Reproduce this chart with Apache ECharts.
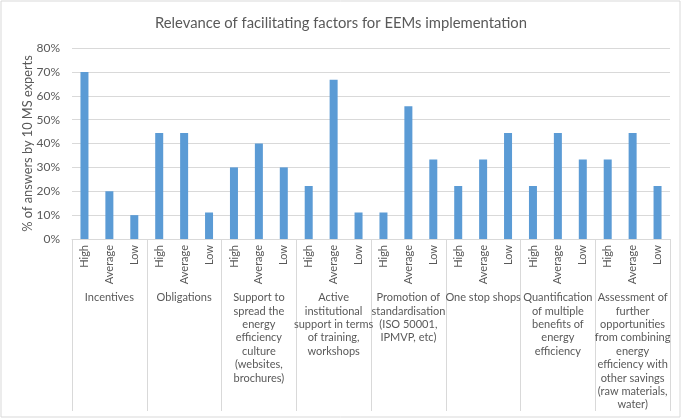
<!DOCTYPE html>
<html><head><meta charset="utf-8">
<script src="https://cdn.jsdelivr.net/npm/echarts@6/dist/echarts.min.js"></script>
<style>html,body{margin:0;padding:0;background:#fff}#c{width:685px;height:419px}</style>
</head><body><div id="c"></div>
<script>
const groups = [
  "Incentives",
  "Obligations",
  "Support to\nspread the\nenergy\nefficiency\nculture\n(websites,\nbrochures)",
  "Active\ninstitutional\nsupport in terms\nof training,\nworkshops",
  "Promotion of\nstandardisation\n(ISO 50001,\nIPMVP, etc)",
  "One stop shops",
  "Quantification\nof multiple\nbenefits of\nenergy\nefficiency",
  "Assessment of\nfurther\nopportunities\nfrom combining\nenergy\nefficiency with\nother savings\n(raw materials,\nwater)"
];
const levels = ["High", "Average", "Low"];
const values = [
  70, 20, 10,
  44.4, 44.4, 11.1,
  30, 40, 30,
  22.2, 66.7, 11.1,
  11.1, 55.6, 33.3,
  22.2, 33.3, 44.4,
  22.2, 44.4, 33.3,
  33.3, 44.4, 22.2
];
const yTicks = [0, 10, 20, 30, 40, 50, 60, 70, 80];

const cats = [];
groups.forEach(() => levels.forEach(l => cats.push(l)));
const FONT = 'Lato';
const TXT = '#595959';
const chart = echarts.init(document.getElementById('c'), null, {renderer: 'canvas'});
chart.setOption({
  animation: false,
  textStyle: {fontFamily: FONT},
  title: {
    text: 'Relevance of facilitating factors for EEMs implementation',
    left: 150, top: 11,
    textStyle: {fontFamily: FONT, fontSize: 14.8, fontWeight: 'normal', color: TXT}
  },
  graphic: [{
    type: 'rect', shape: {x: 1, y: 1, width: 679, height: 416},
    style: {fill: 'none', stroke: '#d9d9d9', lineWidth: 1}, silent: true, z: -1
  }],
  grid: {left: 72, right: 15, top: 48, bottom: 180},
  xAxis: [{
    type: 'category', data: cats, position: 'bottom',
    axisLine: {lineStyle: {color: '#d9d9d9'}},
    axisTick: {show: false},
    axisLabel: {rotate: 90, interval: 0, fontSize: 11, color: TXT, margin: 6, fontFamily: FONT}
  }, {
    type: 'category', data: groups, position: 'bottom',
    axisLine: {show: false},
    axisTick: {show: true, length: 172, lineStyle: {color: '#d9d9d9'}},
    axisLabel: {interval: 0, fontSize: 11, color: TXT, margin: 52, lineHeight: 13.4,
      verticalAlign: 'top', align: 'center', fontFamily: FONT}
  }],
  yAxis: {
    type: 'value', min: 0, max: 80, interval: 10,
    name: '% of answers by 10 MS experts', nameLocation: 'middle', nameGap: 38,
    nameMoveOverlap: false,
    nameTextStyle: {fontSize: 12.8, color: TXT, fontFamily: FONT},
    axisLine: {show: false}, axisTick: {show: false},
    splitLine: {lineStyle: {color: '#d9d9d9'}},
    axisLabel: {fontSize: 12, color: TXT, margin: 12, fontFamily: FONT,
      formatter: v => yTicks.includes(v) ? v + '%' : ''}
  },
  series: [{
    type: 'bar', xAxisIndex: 0, data: values, barWidth: 8,
    itemStyle: {color: '#5b9bd5'}
  }]
});
</script></body></html>
